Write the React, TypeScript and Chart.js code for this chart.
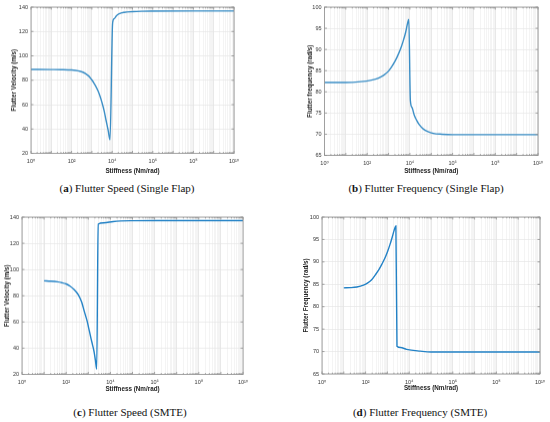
import { useEffect, useRef } from "react";
import { Chart, registerables } from "chart.js";

Chart.register(...registerables);

// (a) flutter speed, single flap
const stiffA = [1, 10, 32, 100, 160, 250, 355, 500, 630, 800, 1000, 1260, 1580, 2000, 2500, 3160, 4000, 5000, 6300, 7800, 10500, 12600, 16000, 22000, 40000, 1e5, 3.2e5, 1e6, 1e8, 1e10];
const speedA = [88.9, 88.8, 88.7, 88.4, 88.0, 87.4, 86.6, 85.3, 84.0, 82.3, 80.2, 77.6, 74.8, 71.3, 67, 61.5, 55, 47, 39, 31, 127, 130.5, 132.8, 134.5, 135.7, 136.3, 136.6, 136.7, 136.8, 136.8];

// (b) flutter frequency, single flap
const stiffB = [1, 10, 50, 140, 320, 590, 1000, 1400, 2000, 2950, 4000, 5000, 6300, 7800, 8900, 10500, 12600, 16000, 21000, 28000, 43000, 70000, 1.26e5, 3.2e5, 1e6, 1e8, 1e10];
const freqB = [82.2, 82.2, 82.4, 82.7, 83.2, 83.9, 84.9, 85.9, 87.2, 89.0, 90.7, 92.2, 94.0, 96.2, 97.1, 78.0, 76.3, 74.5, 73.2, 72.2, 71.2, 70.6, 70.2, 70.0, 69.9, 69.9, 69.9];

// (c) flutter speed, SMTE
const stiffC = [10, 20, 40, 63, 100, 150, 225, 355, 500, 660, 890, 1120, 1320, 1580, 1820, 2090, 2400, 2800, 5000, 13500, 30000, 1e5, 1e6, 1e10];
const speedC = [91.4, 91.1, 90.6, 90.0, 89.0, 87.3, 84.8, 80.7, 75.2, 68, 60.5, 53, 47.5, 42, 37.3, 31, 24, 134.6, 135.6, 136.6, 137, 137.2, 137.3, 137.3];

// (d) flutter frequency, SMTE
const stiffD = [10, 20, 40, 80, 126, 190, 280, 400, 560, 780, 1000, 1320, 1660, 2000, 2450, 2750, 4000, 7600, 32000, 1e5, 1e6, 1e10];
const freqD = [84.2, 84.25, 84.4, 84.8, 85.3, 86.0, 87.1, 88.2, 89.5, 90.9, 92.2, 93.9, 95.5, 96.9, 98.0, 71.2, 70.9, 70.5, 70.1, 69.9, 69.9, 69.9];

const xTickValues = [1, 1e2, 1e4, 1e6, 1e8, 1e10];
const xTickLabels = ["10⁰", "10²", "10⁴", "10⁶", "10⁸", "10¹⁰"];
const speedTicks = [20, 40, 60, 80, 100, 120, 140];
const freqTicks = [65, 70, 75, 80, 85, 90, 95, 100];

const SANS = "'Liberation Sans', Arial, 'DejaVu Sans', sans-serif";
const TICK_SIZE = 5.5;
const TITLE_SIZE = 6.3;

type Frame = { l: number; t: number; r: number; b: number; yTitleX: number; xTitleY: number };

const isDecade = (v: number) => Math.abs(Math.log10(v) - Math.round(Math.log10(v))) < 1e-9;

const boxPlugin = {
  id: "matlabBox",
  afterDatasetsDraw(chart: any) {
    const { ctx, chartArea: a, scales } = chart;
    ctx.save();
    ctx.strokeStyle = "#8f8f8f";
    ctx.lineWidth = 0.8;
    ctx.strokeRect(a.left, a.top, a.right - a.left, a.bottom - a.top);
    ctx.beginPath();
    scales.x.ticks.forEach((t: any) => {
      const px = scales.x.getPixelForValue(t.value);
      const len = isDecade(t.value) ? 2.5 : 1.4;
      ctx.moveTo(px, a.bottom);
      ctx.lineTo(px, a.bottom - len);
      ctx.moveTo(px, a.top);
      ctx.lineTo(px, a.top + len);
    });
    scales.y.ticks.forEach((t: any) => {
      const py = scales.y.getPixelForValue(t.value);
      ctx.moveTo(a.left, py);
      ctx.lineTo(a.left + 2.5, py);
      ctx.moveTo(a.right, py);
      ctx.lineTo(a.right - 2.5, py);
    });
    ctx.stroke();
    ctx.restore();
  },
};

type PanelProps = {
  frame: Frame;
  xs: number[];
  ys: number[];
  yTicks: number[];
  yTitle: string;
  color: string;
};

function FlutterPanel({ frame, xs, ys, yTicks, yTitle, color }: PanelProps) {
  const canvasRef = useRef<HTMLCanvasElement>(null);
  const chartRef = useRef<Chart | null>(null);

  const lh = TITLE_SIZE * 1.2;
  const cl = frame.yTitleX - 6;
  const ct = frame.t - 6;
  const cr = frame.r + 10;
  const cb = frame.xTitleY + 6;
  const w = cr - cl;
  const h = cb - ct;
  const padLeft = frame.yTitleX - cl - lh / 2;
  const padTop = frame.t - ct;
  const padRight = cr - frame.r;
  const padBottom = cb - frame.xTitleY - lh / 2;
  const yAxisW = frame.l - cl - padLeft;
  const xAxisH = cb - padBottom - frame.b;

  useEffect(() => {
    if (!canvasRef.current) return;
    if (chartRef.current) chartRef.current.destroy();
    const ctx = canvasRef.current.getContext("2d");
    if (!ctx) return;

    chartRef.current = new Chart(ctx, {
      type: "line",
      data: {
        datasets: [{
          data: xs.map((x, i) => ({ x, y: ys[i] })),
          borderColor: color,
          borderWidth: 1.4,
          pointRadius: 0,
          cubicInterpolationMode: "monotone",
          fill: false,
        }],
      },
      options: {
        responsive: false,
        animation: false,
        layout: { padding: { left: padLeft, top: padTop, right: padRight, bottom: padBottom } },
        plugins: { legend: { display: false }, tooltip: { enabled: false } },
        scales: {
          x: {
            type: "logarithmic",
            min: 1,
            max: 1e10,
            afterBuildTicks: (scale: any) => {
              const ticks: { value: number }[] = [];
              for (let e = 0; e < 10; e++) {
                for (let m = 1; m < 10; m++) ticks.push({ value: m * Math.pow(10, e) });
              }
              ticks.push({ value: 1e10 });
              scale.ticks = ticks;
            },
            afterFit: (scale: any) => {
              scale.height = xAxisH;
              scale.paddingLeft = 0;
              scale.paddingRight = 0;
            },
            ticks: {
              autoSkip: false,
              maxRotation: 0,
              minRotation: 0,
              padding: 5,
              color: "#333333",
              font: { family: SANS, size: TICK_SIZE },
              callback: (value: any) => {
                const i = xTickValues.findIndex((v) => Math.abs(v - Number(value)) / v < 1e-6);
                return i >= 0 ? xTickLabels[i] : "";
              },
            },
            grid: {
              drawTicks: false,
              lineWidth: 0.6,
              color: (c: any) => (c.tick && isDecade(c.tick.value) ? "#d8d8d8" : "#ececec"),
            },
            border: { display: false },
            title: {
              display: true,
              text: "Stiffness (Nm/rad)",
              color: "#222222",
              padding: 0,
              font: { family: SANS, size: TITLE_SIZE, weight: "bold" },
            },
          },
          y: {
            min: yTicks[0],
            max: yTicks[yTicks.length - 1],
            afterFit: (scale: any) => {
              scale.width = yAxisW;
              scale.paddingTop = 0;
              scale.paddingBottom = 0;
            },
            ticks: {
              stepSize: yTicks[1] - yTicks[0],
              padding: 3,
              color: "#333333",
              font: { family: SANS, size: TICK_SIZE },
            },
            grid: { drawTicks: false, lineWidth: 0.6, color: "#e2e2e2" },
            border: { display: false },
            title: {
              display: true,
              text: yTitle,
              color: "#222222",
              padding: 0,
              font: { family: SANS, size: TITLE_SIZE, weight: "bold" },
            },
          },
        },
      },
      plugins: [boxPlugin],
    } as any);

    return () => {
      if (chartRef.current) {
        chartRef.current.destroy();
        chartRef.current = null;
      }
    };
  }, []);

  return (
    <canvas
      ref={canvasRef}
      width={w}
      height={h}
      style={{ position: "absolute", left: cl, top: ct, width: w, height: h }}
    />
  );
}

function Caption({ x, y, tag, text }: { x: number; y: number; tag: string; text: string }) {
  return (
    <div
      style={{
        position: "absolute",
        left: x - 150,
        top: y - 8,
        width: 300,
        textAlign: "center",
        fontFamily: "'Liberation Serif', 'DejaVu Serif', serif",
        fontSize: 11,
        lineHeight: "16px",
        color: "#111",
        whiteSpace: "nowrap",
      }}
    >
      (<b>{tag}</b>) {text}
    </div>
  );
}

export default function App() {
  return (
    <div style={{ position: "fixed", left: 0, top: 0, width: 550, height: 422, background: "#fff", overflow: "hidden" }}>
      <FlutterPanel
        frame={{ l: 31, t: 7, r: 234, b: 153, yTitleX: 14, xTitleY: 170.5 }}
        xs={stiffA}
        ys={speedA}
        yTicks={speedTicks}
        yTitle="Flutter Velocity (m/s)"
        color="#3b8ec6"
      />
      <FlutterPanel
        frame={{ l: 324, t: 7, r: 538, b: 155, yTitleX: 309.5, xTitleY: 170.5 }}
        xs={stiffB}
        ys={freqB}
        yTicks={freqTicks}
        yTitle="Flutter frequency (rad/s)"
        color="#3b8ec6"
      />
      <FlutterPanel
        frame={{ l: 22, t: 217, r: 243, b: 374, yTitleX: 7, xTitleY: 388.5 }}
        xs={stiffC}
        ys={speedC}
        yTicks={speedTicks}
        yTitle="Flutter Velocity (m/s)"
        color="#2382c6"
      />
      <FlutterPanel
        frame={{ l: 322, t: 217, r: 540, b: 374, yTitleX: 306, xTitleY: 388 }}
        xs={stiffD}
        ys={freqD}
        yTicks={freqTicks}
        yTitle="Flutter Frequency (rad/s)"
        color="#2382c6"
      />
      <Caption x={127} y={188} tag="a" text="Flutter Speed (Single Flap)" />
      <Caption x={426} y={188} tag="b" text="Flutter Frequency (Single Flap)" />
      <Caption x={130} y={412} tag="c" text="Flutter Speed (SMTE)" />
      <Caption x={420} y={412} tag="d" text="Flutter Frequency (SMTE)" />
    </div>
  );
}
